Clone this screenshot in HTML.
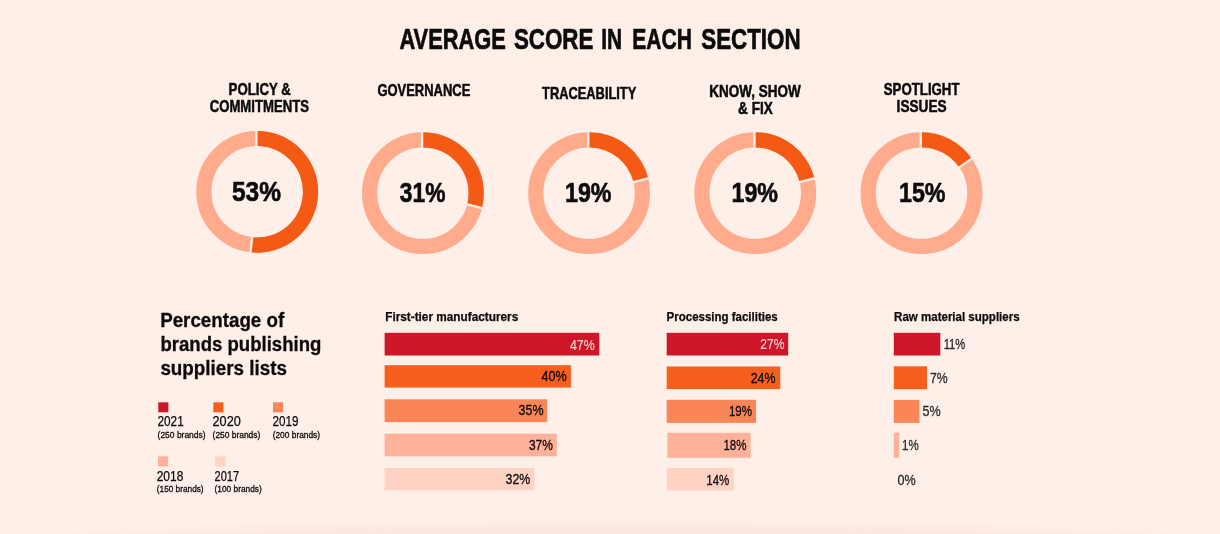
<!DOCTYPE html>
<html><head><meta charset="utf-8"><title>Average score in each section</title>
<style>
html,body{margin:0;padding:0;background:#FFEFE9;}
body{width:1220px;height:534px;overflow:hidden;}
svg{display:block;font-family:"Liberation Sans",sans-serif;}
</style></head><body>
<svg width="1220" height="534" viewBox="0 0 1220 534">
<defs><filter id="bl" x="-10%" y="-100%" width="120%" height="300%"><feGaussianBlur stdDeviation="5"/></filter></defs>
<rect width="1220" height="534" fill="#FFEFE9"/>
<ellipse cx="620" cy="548" rx="610" ry="24" fill="#FAE6DF" filter="url(#bl)"/>
<text x="399.4" y="49.2" font-size="29.8" font-weight="bold" fill="#0B0B0B" text-anchor="start" textLength="106.5" lengthAdjust="spacingAndGlyphs" stroke="#0B0B0B" stroke-width="0.7" stroke-linejoin="round">AVERAGE</text>
<text x="513.9" y="49.2" font-size="29.8" font-weight="bold" fill="#0B0B0B" text-anchor="start" textLength="79.5" lengthAdjust="spacingAndGlyphs" stroke="#0B0B0B" stroke-width="0.7" stroke-linejoin="round">SCORE</text>
<text x="601.2" y="49.2" font-size="29.8" font-weight="bold" fill="#0B0B0B" text-anchor="start" textLength="20.9" lengthAdjust="spacingAndGlyphs" stroke="#0B0B0B" stroke-width="0.7" stroke-linejoin="round">IN</text>
<text x="632.2" y="49.2" font-size="29.8" font-weight="bold" fill="#0B0B0B" text-anchor="start" textLength="59.8" lengthAdjust="spacingAndGlyphs" stroke="#0B0B0B" stroke-width="0.7" stroke-linejoin="round">EACH</text>
<text x="701.3" y="49.2" font-size="29.8" font-weight="bold" fill="#0B0B0B" text-anchor="start" textLength="99.3" lengthAdjust="spacingAndGlyphs" stroke="#0B0B0B" stroke-width="0.7" stroke-linejoin="round">SECTION</text>
<text x="228.6" y="94.8" font-size="15.7" font-weight="bold" fill="#0B0B0B" text-anchor="start" textLength="62.2" lengthAdjust="spacingAndGlyphs" stroke="#0B0B0B" stroke-width="0.5" stroke-linejoin="round">POLICY &amp;</text>
<text x="209.7" y="111.6" font-size="15.7" font-weight="bold" fill="#0B0B0B" text-anchor="start" textLength="99.3" lengthAdjust="spacingAndGlyphs" stroke="#0B0B0B" stroke-width="0.5" stroke-linejoin="round">COMMITMENTS</text>
<text x="377.4" y="95.8" font-size="15.7" font-weight="bold" fill="#0B0B0B" text-anchor="start" textLength="92.9" lengthAdjust="spacingAndGlyphs" stroke="#0B0B0B" stroke-width="0.5" stroke-linejoin="round">GOVERNANCE</text>
<text x="542.1" y="98.5" font-size="15.7" font-weight="bold" fill="#0B0B0B" text-anchor="start" textLength="94.2" lengthAdjust="spacingAndGlyphs" stroke="#0B0B0B" stroke-width="0.5" stroke-linejoin="round">TRACEABILITY</text>
<text x="709.3" y="96.6" font-size="15.7" font-weight="bold" fill="#0B0B0B" text-anchor="start" textLength="91.5" lengthAdjust="spacingAndGlyphs" stroke="#0B0B0B" stroke-width="0.5" stroke-linejoin="round">KNOW, SHOW</text>
<text x="738.1" y="114.3" font-size="15.7" font-weight="bold" fill="#0B0B0B" text-anchor="start" textLength="34.7" lengthAdjust="spacingAndGlyphs" stroke="#0B0B0B" stroke-width="0.5" stroke-linejoin="round">&amp; FIX</text>
<text x="883.8" y="94.8" font-size="15.7" font-weight="bold" fill="#0B0B0B" text-anchor="start" textLength="75.7" lengthAdjust="spacingAndGlyphs" stroke="#0B0B0B" stroke-width="0.5" stroke-linejoin="round">SPOTLIGHT</text>
<text x="896.6" y="111.6" font-size="15.7" font-weight="bold" fill="#0B0B0B" text-anchor="start" textLength="50.1" lengthAdjust="spacingAndGlyphs" stroke="#0B0B0B" stroke-width="0.5" stroke-linejoin="round">ISSUES</text>
<circle cx="257.2" cy="191.8" r="53.3" fill="none" stroke="#FFAB8C" stroke-width="15.2"/>
<path d="M257.20 130.90 A60.9 60.9 0 1 1 250.52 252.33 L252.19 237.22 A45.699999999999996 45.699999999999996 0 1 0 257.20 146.10 Z" fill="#F55A14"/>
<line x1="256.4" y1="129.9" x2="256.4" y2="147.10000000000002" stroke="#FFECE5" stroke-width="2.3"/>
<line x1="250.41" y1="253.33" x2="252.29" y2="236.23" stroke="#FFECE5" stroke-width="2.3"/>
<circle cx="422.9" cy="193.1" r="53.3" fill="none" stroke="#FFAB8C" stroke-width="15.2"/>
<path d="M422.90 132.20 A60.9 60.9 0 0 1 481.91 208.14 L467.18 204.39 A45.699999999999996 45.699999999999996 0 0 0 422.90 147.40 Z" fill="#F55A14"/>
<line x1="422.09999999999997" y1="131.2" x2="422.09999999999997" y2="148.4" stroke="#FFECE5" stroke-width="2.3"/>
<line x1="482.88" y1="208.39" x2="466.22" y2="204.14" stroke="#FFECE5" stroke-width="2.3"/>
<circle cx="589.1" cy="193.1" r="53.3" fill="none" stroke="#FFAB8C" stroke-width="15.2"/>
<path d="M589.10 132.20 A60.9 60.9 0 0 1 648.19 178.37 L633.44 182.04 A45.699999999999996 45.699999999999996 0 0 0 589.10 147.40 Z" fill="#F55A14"/>
<line x1="588.3000000000001" y1="131.2" x2="588.3000000000001" y2="148.4" stroke="#FFECE5" stroke-width="2.3"/>
<line x1="649.16" y1="178.13" x2="632.47" y2="182.29" stroke="#FFECE5" stroke-width="2.3"/>
<circle cx="755.25" cy="193.1" r="53.3" fill="none" stroke="#FFAB8C" stroke-width="15.2"/>
<path d="M755.25 132.20 A60.9 60.9 0 0 1 814.34 178.37 L799.59 182.04 A45.699999999999996 45.699999999999996 0 0 0 755.25 147.40 Z" fill="#F55A14"/>
<line x1="754.45" y1="131.2" x2="754.45" y2="148.4" stroke="#FFECE5" stroke-width="2.3"/>
<line x1="815.31" y1="178.13" x2="798.62" y2="182.29" stroke="#FFECE5" stroke-width="2.3"/>
<circle cx="921.5" cy="193.1" r="53.3" fill="none" stroke="#FFAB8C" stroke-width="15.2"/>
<path d="M921.50 132.20 A60.9 60.9 0 0 1 971.75 158.69 L959.21 167.28 A45.699999999999996 45.699999999999996 0 0 0 921.50 147.40 Z" fill="#F55A14"/>
<line x1="920.7" y1="131.2" x2="920.7" y2="148.4" stroke="#FFECE5" stroke-width="2.3"/>
<line x1="972.57" y1="158.13" x2="958.38" y2="167.85" stroke="#FFECE5" stroke-width="2.3"/>
<text x="232.0" y="201.4" font-size="27" font-weight="bold" fill="#0B0B0B" text-anchor="start" textLength="49.0" lengthAdjust="spacingAndGlyphs" stroke="#0B0B0B" stroke-width="0.6" stroke-linejoin="round">53%</text>
<text x="399.8" y="202.0" font-size="27" font-weight="bold" fill="#0B0B0B" text-anchor="start" textLength="45.6" lengthAdjust="spacingAndGlyphs" stroke="#0B0B0B" stroke-width="0.6" stroke-linejoin="round">31%</text>
<text x="565.0" y="201.6" font-size="27" font-weight="bold" fill="#0B0B0B" text-anchor="start" textLength="46.5" lengthAdjust="spacingAndGlyphs" stroke="#0B0B0B" stroke-width="0.6" stroke-linejoin="round">19%</text>
<text x="731.5" y="201.6" font-size="27" font-weight="bold" fill="#0B0B0B" text-anchor="start" textLength="46.5" lengthAdjust="spacingAndGlyphs" stroke="#0B0B0B" stroke-width="0.6" stroke-linejoin="round">19%</text>
<text x="899.0" y="201.6" font-size="27" font-weight="bold" fill="#0B0B0B" text-anchor="start" textLength="46.5" lengthAdjust="spacingAndGlyphs" stroke="#0B0B0B" stroke-width="0.6" stroke-linejoin="round">15%</text>
<text x="160.2" y="326.8" font-size="20" font-weight="bold" fill="#0B0B0B" text-anchor="start" textLength="124.0" lengthAdjust="spacingAndGlyphs" stroke="#0B0B0B" stroke-width="0.3" stroke-linejoin="round">Percentage of</text>
<text x="160.4" y="350.5" font-size="20" font-weight="bold" fill="#0B0B0B" text-anchor="start" textLength="161.0" lengthAdjust="spacingAndGlyphs" stroke="#0B0B0B" stroke-width="0.3" stroke-linejoin="round">brands publishing</text>
<text x="160.4" y="374.6" font-size="20" font-weight="bold" fill="#0B0B0B" text-anchor="start" textLength="126.6" lengthAdjust="spacingAndGlyphs" stroke="#0B0B0B" stroke-width="0.3" stroke-linejoin="round">suppliers lists</text>
<rect x="158.3" y="402.3" width="10.1" height="10" fill="#CE1629"/>
<rect x="213.3" y="402.3" width="10.1" height="10" fill="#F7601C"/>
<rect x="273.0" y="402.3" width="10.1" height="10" fill="#FA8657"/>
<rect x="158.0" y="456.4" width="10.1" height="10" fill="#FFB299"/>
<rect x="215.3" y="456.4" width="10.1" height="10" fill="#FFD2C4"/>
<text x="157.5" y="426.4" font-size="14.5" font-weight="normal" fill="#0B0B0B" text-anchor="start" textLength="26.2" lengthAdjust="spacingAndGlyphs" stroke="#0B0B0B" stroke-width="0.25" stroke-linejoin="round">2021</text>
<text x="212.5" y="426.4" font-size="14.5" font-weight="normal" fill="#0B0B0B" text-anchor="start" textLength="28.3" lengthAdjust="spacingAndGlyphs" stroke="#0B0B0B" stroke-width="0.25" stroke-linejoin="round">2020</text>
<text x="272.6" y="426.4" font-size="14.5" font-weight="normal" fill="#0B0B0B" text-anchor="start" textLength="26.0" lengthAdjust="spacingAndGlyphs" stroke="#0B0B0B" stroke-width="0.25" stroke-linejoin="round">2019</text>
<text x="157.6" y="437.8" font-size="9.2" font-weight="normal" fill="#0B0B0B" text-anchor="start" textLength="48.0" lengthAdjust="spacingAndGlyphs" stroke="#0B0B0B" stroke-width="0.3" stroke-linejoin="round">(250 brands)</text>
<text x="212.6" y="437.8" font-size="9.2" font-weight="normal" fill="#0B0B0B" text-anchor="start" textLength="47.7" lengthAdjust="spacingAndGlyphs" stroke="#0B0B0B" stroke-width="0.3" stroke-linejoin="round">(250 brands)</text>
<text x="272.7" y="437.8" font-size="9.2" font-weight="normal" fill="#0B0B0B" text-anchor="start" textLength="47.4" lengthAdjust="spacingAndGlyphs" stroke="#0B0B0B" stroke-width="0.3" stroke-linejoin="round">(200 brands)</text>
<text x="156.7" y="480.5" font-size="14.5" font-weight="normal" fill="#0B0B0B" text-anchor="start" textLength="26.7" lengthAdjust="spacingAndGlyphs" stroke="#0B0B0B" stroke-width="0.25" stroke-linejoin="round">2018</text>
<text x="214.5" y="480.5" font-size="14.5" font-weight="normal" fill="#0B0B0B" text-anchor="start" textLength="24.7" lengthAdjust="spacingAndGlyphs" stroke="#0B0B0B" stroke-width="0.25" stroke-linejoin="round">2017</text>
<text x="156.8" y="491.8" font-size="9.2" font-weight="normal" fill="#0B0B0B" text-anchor="start" textLength="46.8" lengthAdjust="spacingAndGlyphs" stroke="#0B0B0B" stroke-width="0.3" stroke-linejoin="round">(150 brands)</text>
<text x="214.6" y="491.8" font-size="9.2" font-weight="normal" fill="#0B0B0B" text-anchor="start" textLength="47.1" lengthAdjust="spacingAndGlyphs" stroke="#0B0B0B" stroke-width="0.3" stroke-linejoin="round">(100 brands)</text>
<text x="385.2" y="320.9" font-size="12" font-weight="bold" fill="#0B0B0B" text-anchor="start" textLength="133.0" lengthAdjust="spacingAndGlyphs" stroke="#0B0B0B" stroke-width="0.25" stroke-linejoin="round">First-tier manufacturers</text>
<text x="666.6" y="321.0" font-size="12" font-weight="bold" fill="#0B0B0B" text-anchor="start" textLength="111.1" lengthAdjust="spacingAndGlyphs" stroke="#0B0B0B" stroke-width="0.25" stroke-linejoin="round">Processing facilities</text>
<text x="894.1" y="321.0" font-size="12" font-weight="bold" fill="#0B0B0B" text-anchor="start" textLength="125.5" lengthAdjust="spacingAndGlyphs" stroke="#0B0B0B" stroke-width="0.25" stroke-linejoin="round">Raw material suppliers</text>
<rect x="384.6" y="332.8" width="214.7" height="22.7" fill="#CE1629"/>
<rect x="384.6" y="365.2" width="186.3" height="22.4" fill="#F7601C"/>
<rect x="384.6" y="399.3" width="162.6" height="22.8" fill="#FA8657"/>
<rect x="384.6" y="433.7" width="172.3" height="22.6" fill="#FFB299"/>
<rect x="384.6" y="467.9" width="149.9" height="22.4" fill="#FFD2C4"/>
<text x="569.9" y="350.2" font-size="13.8" font-weight="normal" fill="#F8D8D2" text-anchor="start" textLength="24.8" lengthAdjust="spacingAndGlyphs" stroke="#F8D8D2" stroke-width="0.1" stroke-linejoin="round">47%</text>
<text x="541.6" y="381.4" font-size="13.8" font-weight="normal" fill="#0B0B0B" text-anchor="start" textLength="25.2" lengthAdjust="spacingAndGlyphs" stroke="#0B0B0B" stroke-width="0.3" stroke-linejoin="round">40%</text>
<text x="518.6" y="415.3" font-size="13.8" font-weight="normal" fill="#0B0B0B" text-anchor="start" textLength="24.9" lengthAdjust="spacingAndGlyphs" stroke="#0B0B0B" stroke-width="0.3" stroke-linejoin="round">35%</text>
<text x="528.9" y="449.7" font-size="13.8" font-weight="normal" fill="#0B0B0B" text-anchor="start" textLength="23.9" lengthAdjust="spacingAndGlyphs" stroke="#0B0B0B" stroke-width="0.3" stroke-linejoin="round">37%</text>
<text x="505.6" y="484.4" font-size="13.8" font-weight="normal" fill="#0B0B0B" text-anchor="start" textLength="24.7" lengthAdjust="spacingAndGlyphs" stroke="#0B0B0B" stroke-width="0.3" stroke-linejoin="round">32%</text>
<rect x="666.7" y="332.8" width="121.5" height="22.7" fill="#CE1629"/>
<rect x="666.7" y="366.5" width="113.6" height="22.6" fill="#F7601C"/>
<rect x="666.7" y="399.8" width="89.4" height="23.1" fill="#FA8657"/>
<rect x="667.3" y="432.8" width="83.3" height="25.0" fill="#FFB299"/>
<rect x="666.7" y="467.8" width="67.0" height="22.7" fill="#FFD2C4"/>
<text x="760.3" y="349.1" font-size="13.8" font-weight="normal" fill="#F8D8D2" text-anchor="start" textLength="24.2" lengthAdjust="spacingAndGlyphs" stroke="#F8D8D2" stroke-width="0.1" stroke-linejoin="round">27%</text>
<text x="750.7" y="382.8" font-size="13.8" font-weight="normal" fill="#0B0B0B" text-anchor="start" textLength="24.8" lengthAdjust="spacingAndGlyphs" stroke="#0B0B0B" stroke-width="0.3" stroke-linejoin="round">24%</text>
<text x="728.9" y="416.4" font-size="13.8" font-weight="normal" fill="#0B0B0B" text-anchor="start" textLength="23.1" lengthAdjust="spacingAndGlyphs" stroke="#0B0B0B" stroke-width="0.3" stroke-linejoin="round">19%</text>
<text x="723.4" y="449.9" font-size="13.8" font-weight="normal" fill="#0B0B0B" text-anchor="start" textLength="23.0" lengthAdjust="spacingAndGlyphs" stroke="#0B0B0B" stroke-width="0.3" stroke-linejoin="round">18%</text>
<text x="706.3" y="484.5" font-size="13.8" font-weight="normal" fill="#0B0B0B" text-anchor="start" textLength="23.0" lengthAdjust="spacingAndGlyphs" stroke="#0B0B0B" stroke-width="0.3" stroke-linejoin="round">14%</text>
<rect x="893.8" y="332.8" width="46.5" height="22.7" fill="#CE1629"/>
<rect x="893.8" y="366.3" width="33.2" height="22.9" fill="#F7601C"/>
<rect x="893.8" y="399.9" width="25.7" height="23.0" fill="#FA8657"/>
<rect x="893.8" y="432.6" width="5.4" height="25.2" fill="#FFB299"/>
<text x="943.7" y="349.1" font-size="13.8" font-weight="normal" fill="#2a2a2a" text-anchor="start" textLength="21.6" lengthAdjust="spacingAndGlyphs" stroke="#2a2a2a" stroke-width="0.3" stroke-linejoin="round">11%</text>
<text x="930.0" y="382.8" font-size="13.8" font-weight="normal" fill="#2a2a2a" text-anchor="start" textLength="17.7" lengthAdjust="spacingAndGlyphs" stroke="#2a2a2a" stroke-width="0.3" stroke-linejoin="round">7%</text>
<text x="922.6" y="416.4" font-size="13.8" font-weight="normal" fill="#2a2a2a" text-anchor="start" textLength="18.1" lengthAdjust="spacingAndGlyphs" stroke="#2a2a2a" stroke-width="0.3" stroke-linejoin="round">5%</text>
<text x="902.1" y="449.9" font-size="13.8" font-weight="normal" fill="#2a2a2a" text-anchor="start" textLength="16.6" lengthAdjust="spacingAndGlyphs" stroke="#2a2a2a" stroke-width="0.3" stroke-linejoin="round">1%</text>
<text x="897.5" y="484.5" font-size="13.8" font-weight="normal" fill="#2a2a2a" text-anchor="start" textLength="18.1" lengthAdjust="spacingAndGlyphs" stroke="#2a2a2a" stroke-width="0.3" stroke-linejoin="round">0%</text>
</svg>
</body></html>
